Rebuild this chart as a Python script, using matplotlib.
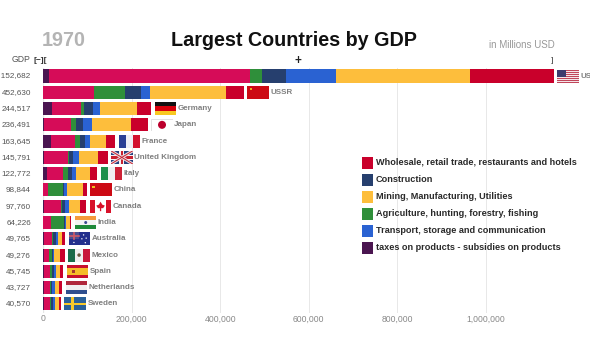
import matplotlib
matplotlib.use('Agg')
import matplotlib.pyplot as plt
from matplotlib.patches import Rectangle, Ellipse, Polygon
import numpy as np

plt.rcParams['font.family'] = ['Liberation Sans', 'DejaVu Sans']

countries = ['US', 'USSR', 'Germany', 'Japan', 'France', 'United Kingdom', 'Italy', 'China',
             'Canada', 'India', 'Australia', 'Mexico', 'Spain', 'Netherlands', 'Sweden']
totals = [1152682, 452630, 244517, 236491, 163645, 145791, 122772, 98844,
          97760, 64226, 49765, 49276, 45745, 43727, 40570]

# stack order, left to right
taxes = [13500, 0, 20300, 2300, 18100, 2300, 9000, 0, 2300, 0, 2300, 2000, 2300, 2300, 2300]
other = [453600, 115100, 65500, 60900, 54200, 54200, 36100, 11300, 38400, 18100, 18100, 11300, 13500, 13500, 13500]
agriculture = [27000, 70000, 6800, 11300, 11300, 2300, 11300, 33900, 2300, 29300, 2300, 6800, 4500, 2300, 2300]
construction = [54200, 36100, 20300, 15800, 11300, 9000, 9000, 2300, 6800, 2300, 6800, 2300, 4500, 2300, 4500]
transport = [112900, 20300, 15800, 20300, 11300, 13500, 9000, 6800, 9000, 2300, 4500, 2300, 4500, 6800, 4500]
mining = [302400, 171500, 83500, 88000, 36100, 42900, 31600, 36100, 24800, 9000, 10000, 13500, 9500, 9000, 9000]
wholesale = [189082, 39630, 32117, 37891, 21345, 21591, 16772, 8444, 14160, 3226, 5765, 11076, 6945, 7527, 4470]

series = [taxes, other, agriculture, construction, transport, mining, wholesale]
colors = ['#4a1550', '#d60c58', '#2f8f3a', '#263f6e', '#2a62d2', '#fdbe3c', '#c9002b']

legend_labels = ['Wholesale, retail trade, restaurants and hotels', 'Construction',
                 'Mining, Manufacturing, Utilities', 'Agriculture, hunting, forestry, fishing',
                 'Transport, storage and communication', 'taxes on products - subsidies on products']
legend_colors = ['#c9002b', '#263f6e', '#fdbe3c', '#2f8f3a', '#2a62d2', '#4a1550']

xticks = [0, 200000, 400000, 600000, 800000, 1000000]

W, H = 590, 354
fig = plt.figure(figsize=(W / 100, H / 100), dpi=100)


def fx(px):
    return px / W


def fy(py):
    return 1 - py / H


left, right, top, bottom = 43, 585, 68, 313
px_per_unit = 0.000443
ax = fig.add_axes([fx(left), fy(bottom), (right - left) / W, (bottom - top) / H])
ax.set_xlim(0, (right - left) / px_per_unit)
row_h = 16.28
ax.set_ylim((bottom - 76) / row_h, (top - 76) / row_h)

y = np.arange(len(countries))
start = np.zeros(len(countries))
for vals, col in zip(series, colors):
    ax.barh(y, vals, left=start, height=0.8, color=col, linewidth=0, zorder=3)
    start = start + np.array(vals)

ax.set_xticks(xticks)
ax.set_xticklabels([f'{t:,}' for t in xticks], fontsize=6.2, color='#888888')
ax.set_yticks([])
ax.tick_params(axis='x', length=0, pad=1)
ax.grid(axis='x', color='#e8e8e8', linewidth=0.7, zorder=0)
for s in ax.spines.values():
    s.set_visible(False)
ax.axvline(0, color='#c4c4c4', linewidth=0.8, zorder=1)

flag_w, flag_h = 21.5, 13


def dot(a, x, y, d_px, col):
    # round in pixels although the flag axes is not square
    a.add_patch(Ellipse((x, y), d_px / flag_w, d_px / flag_h, color=col, lw=0))


def stripes_h(a, cols):
    n = len(cols)
    for i, c in enumerate(cols):
        a.add_patch(Rectangle((0, 1 - (i + 1) / n), 1, 1 / n, color=c, lw=0))


def stripes_v(a, cols):
    n = len(cols)
    for i, c in enumerate(cols):
        a.add_patch(Rectangle((i / n, 0), 1 / n, 1, color=c, lw=0))


def draw_flag(a, name):
    if name == 'US':
        stripes_h(a, ['#c0455a', '#f4e4e8'] * 6 + ['#c0455a'])
        a.add_patch(Rectangle((0, 0.45), 0.42, 0.55, color='#3c3b6e', lw=0))
    elif name == 'USSR':
        a.add_patch(Rectangle((0, 0), 1, 1, color='#cc0a14', lw=0))
        a.add_patch(Rectangle((0.12, 0.65), 0.12, 0.18, color='#e8b020', lw=0))
    elif name == 'Germany':
        stripes_h(a, ['#111111', '#d8000c', '#f8c820'])
    elif name == 'Japan':
        a.add_patch(Rectangle((0.01, 0.02), 0.98, 0.96, fc='#ffffff', ec='#dcdcdc', lw=0.6))
        dot(a, 0.5, 0.5, 8, '#bc002d')
    elif name == 'France':
        stripes_v(a, ['#2b3f94', '#eeeef4', '#d3112e'])
    elif name == 'United Kingdom':
        a.add_patch(Rectangle((0, 0), 1, 1, color='#27407e', lw=0))
        a.plot([0, 1], [0, 1], color='#e8dfe4', lw=2.2)
        a.plot([0, 1], [1, 0], color='#e8dfe4', lw=2.2)
        a.plot([0, 1], [0, 1], color='#c8202f', lw=0.7)
        a.plot([0, 1], [1, 0], color='#c8202f', lw=0.7)
        a.add_patch(Rectangle((0.38, 0), 0.24, 1, color='#f4f0f2', lw=0))
        a.add_patch(Rectangle((0, 0.33), 1, 0.34, color='#f4f0f2', lw=0))
        a.add_patch(Rectangle((0.44, 0), 0.12, 1, color='#c8202f', lw=0))
        a.add_patch(Rectangle((0, 0.41), 1, 0.18, color='#c8202f', lw=0))
    elif name == 'Italy':
        stripes_v(a, ['#1f8f4c', '#f0f0f0', '#cd2136'])
    elif name == 'China':
        a.add_patch(Rectangle((0, 0), 1, 1, color='#cc0a14', lw=0))
        a.add_patch(Rectangle((0.1, 0.62), 0.14, 0.22, color='#f0c020', lw=0))
    elif name == 'Canada':
        stripes_v(a, ['#d8112a', '#ffffff', '#ffffff', '#d8112a'])
        a.add_patch(Polygon([(0.5, 0.85), (0.58, 0.62), (0.7, 0.55), (0.62, 0.35), (0.53, 0.35), (0.53, 0.12),
                             (0.47, 0.12), (0.47, 0.35), (0.38, 0.35), (0.3, 0.55), (0.42, 0.62)],
                            color='#d8112a', lw=0))
    elif name == 'India':
        stripes_h(a, ['#f59a3c', '#f4f4f4', '#1f8a3a'])
        dot(a, 0.5, 0.5, 3, '#3a4a90')
    elif name == 'Australia':
        a.add_patch(Rectangle((0, 0), 1, 1, color='#232f8c', lw=0))
        a.add_patch(Rectangle((0, 0.5), 0.5, 0.5, color='#4a4f90', lw=0))
        a.plot([0, 0.5], [0.75, 0.75], color='#d05a66', lw=1.2)
        a.plot([0.25, 0.25], [0.5, 1], color='#d05a66', lw=1.2)
        for sx, sy in zip([0.25, 0.7, 0.82, 0.62, 0.78], [0.22, 0.8, 0.55, 0.5, 0.2]):
            dot(a, sx, sy, 1.4, '#ffffff')
    elif name == 'Mexico':
        stripes_v(a, ['#1a6b4a', '#f0f0f0', '#c8163a'])
        dot(a, 0.5, 0.5, 3.5, '#6b5a40')
    elif name == 'Spain':
        a.add_patch(Rectangle((0, 0), 1, 1, color='#c8102e', lw=0))
        a.add_patch(Rectangle((0, 0.25), 1, 0.5, color='#f5bd2a', lw=0))
        a.add_patch(Rectangle((0.26, 0.36), 0.12, 0.28, color='#a83a30', lw=0))
    elif name == 'Netherlands':
        stripes_h(a, ['#b0283c', '#f0f0f0', '#2f4f8f'])
    elif name == 'Sweden':
        a.add_patch(Rectangle((0, 0), 1, 1, color='#2a6199', lw=0))
        a.add_patch(Rectangle((0.3, 0), 0.16, 1, color='#f7c92a', lw=0))
        a.add_patch(Rectangle((0, 0.4), 1, 0.2, color='#f7c92a', lw=0))


for i, name in enumerate(countries):
    end_px = left + totals[i] * px_per_unit
    row_px = 76 + i * row_h
    fa = fig.add_axes([fx(end_px + 3.5), fy(row_px + flag_h / 2), flag_w / W, flag_h / H], zorder=4)
    fa.set_xlim(0, 1)
    fa.set_ylim(0, 1)
    fa.axis('off')
    draw_flag(fa, name)
    fig.text(fx(end_px + 3.5 + flag_w + 1.5), fy(row_px), name, fontsize=5.8, fontweight='bold',
             color='#808080', va='center', ha='left', zorder=5)
    fig.text(fx(31), fy(row_px), f'{totals[i]:,}', fontsize=5.9, color='#555555', va='center', ha='right')

fig.text(fx(293.5), fy(41), 'Largest Countries by GDP', fontsize=14.2, fontweight='bold',
         color='#111111', ha='center', va='center')
fig.text(fx(42), fy(41), '1970', fontsize=14.2, fontweight='bold', color='#b4b4b4', ha='left', va='center')
fig.text(fx(489), fy(45), 'in Millions USD', fontsize=7, color='#999999', ha='left', va='center')
fig.text(fx(12), fy(60), 'GDP', fontsize=6.2, color='#555555', ha='left', va='center')
fig.text(fx(34), fy(60), '[−][', fontsize=6, fontweight='bold', color='#333333', ha='left', va='center')
fig.text(fx(298), fy(61), '+', fontsize=8.5, fontweight='bold', color='#222222', ha='center', va='center')
fig.text(fx(552), fy(60), ']', fontsize=6, color='#333333', ha='center', va='center')

for i, (lab, col) in enumerate(zip(legend_labels, legend_colors)):
    py = 162.5 + i * 17.1
    fig.add_artist(Rectangle((fx(361.5), fy(py + 6)), 11.5 / W, 12 / H, color=col, lw=0,
                             transform=fig.transFigure))
    fig.text(fx(376), fy(py), lab, fontsize=6.55, fontweight='bold', color='#2a2a2a', ha='left', va='center')

fig.savefig('out.png', dpi=100)
